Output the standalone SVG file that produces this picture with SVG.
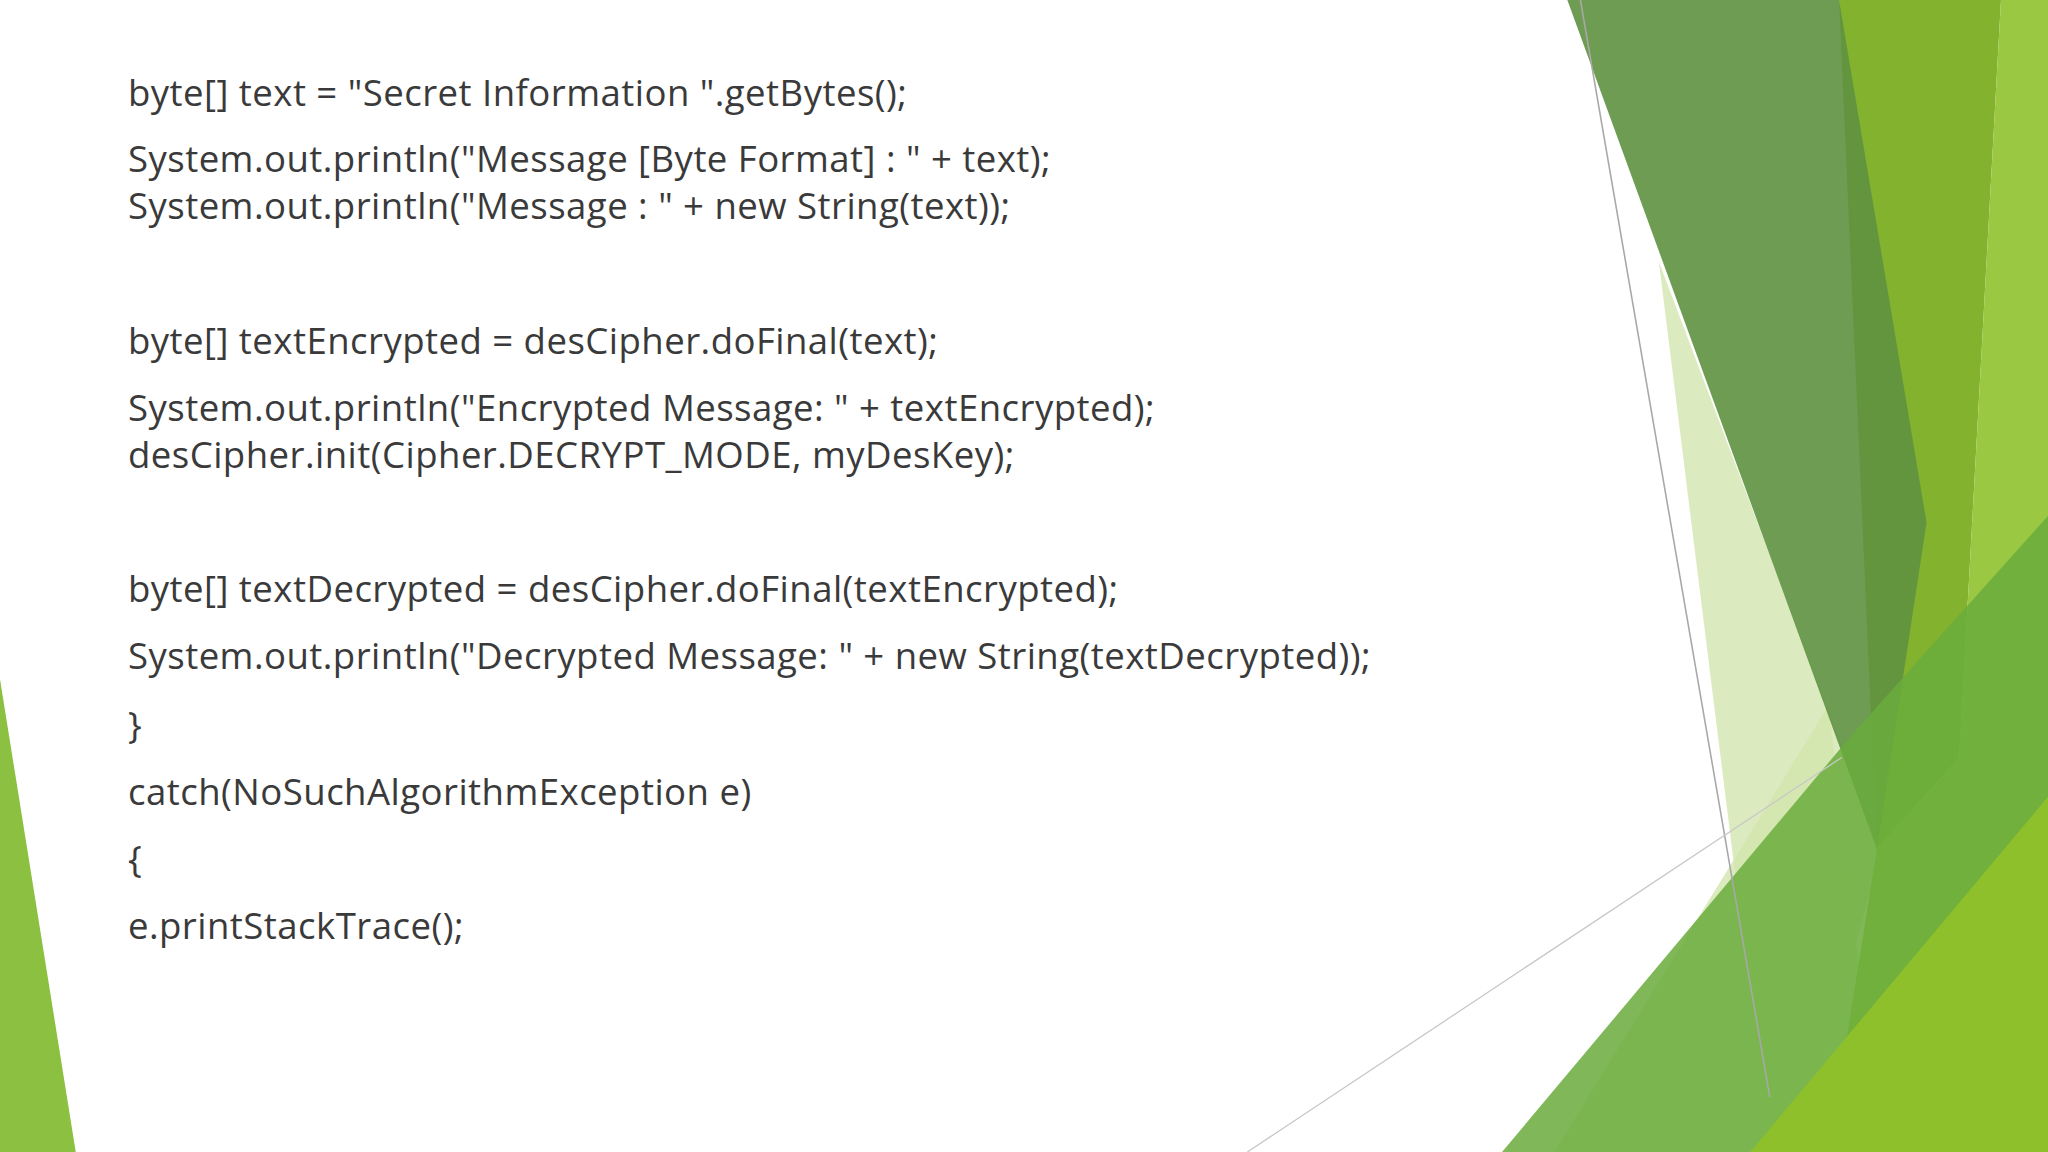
<svg xmlns="http://www.w3.org/2000/svg" width="2048" height="1152" viewBox="0 0 2048 1152">
<style>
.t{font-family:"Open Sans","DejaVu Sans",sans-serif;font-size:28px;letter-spacing:0.35px;fill:#3a3a3a}
</style>
<rect width="2048" height="1152" fill="#fff"/>
<g transform="scale(1.30612)">
<g id="decor">
<polygon points="0,520 0,882 58,882" fill="#8cc040"/>
<polygon points="1270,200 1440,650 1380,882 1355,882" fill="#dcebbf"/>
<polygon points="1190,882 1400,540 1440,882" fill="#d3e6ae" opacity="0.8"/>
<polygon points="1408,0 1532,0 1500,580 1437,650" fill="#82b22e"/>
<polygon points="1532,0 1568,0 1568,882 1400,882 1437,650 1500,580" fill="#9ac843"/>
<polygon points="1200,0 1408,0 1475,400 1437,650" fill="#5f9140" opacity="0.9"/>
<polygon points="1150,882 1420,560 1568,395 1568,882" fill="#6aac3c" opacity="0.85"/>
<polygon points="1340,882 1568,610 1568,882" fill="#8dc02b"/>
<line x1="1210" y1="0" x2="1355" y2="840" stroke="#a8a8a8" stroke-width="1.2"/>
<line x1="955" y1="882" x2="1410" y2="580" stroke="#c8c8c8" stroke-width="1"/>
</g>
<g id="code">
<text class="t" x="98" y="81">byte[] text = "Secret Information ".getBytes();</text>
<text class="t" x="98" y="132">System.out.println("Message [Byte Format] : " + text);</text>
<text class="t" x="98" y="168">System.out.println("Message : " + new String(text));</text>
<text class="t" x="98" y="271">byte[] textEncrypted = desCipher.doFinal(text);</text>
<text class="t" x="98" y="322">System.out.println("Encrypted Message: " + textEncrypted);</text>
<text class="t" x="98" y="358">desCipher.init(Cipher.DECRYPT_MODE, myDesKey);</text>
<text class="t" x="98" y="461">byte[] textDecrypted = desCipher.doFinal(textEncrypted);</text>
<text class="t" x="98" y="512">System.out.println("Decrypted Message: " + new String(textDecrypted));</text>
<text class="t" x="98" y="565">}</text>
<text class="t" x="98" y="616">catch(NoSuchAlgorithmException e)</text>
<text class="t" x="98" y="668">{</text>
<text class="t" x="98" y="719">e.printStackTrace();</text>
</g>
</g>
</svg>
